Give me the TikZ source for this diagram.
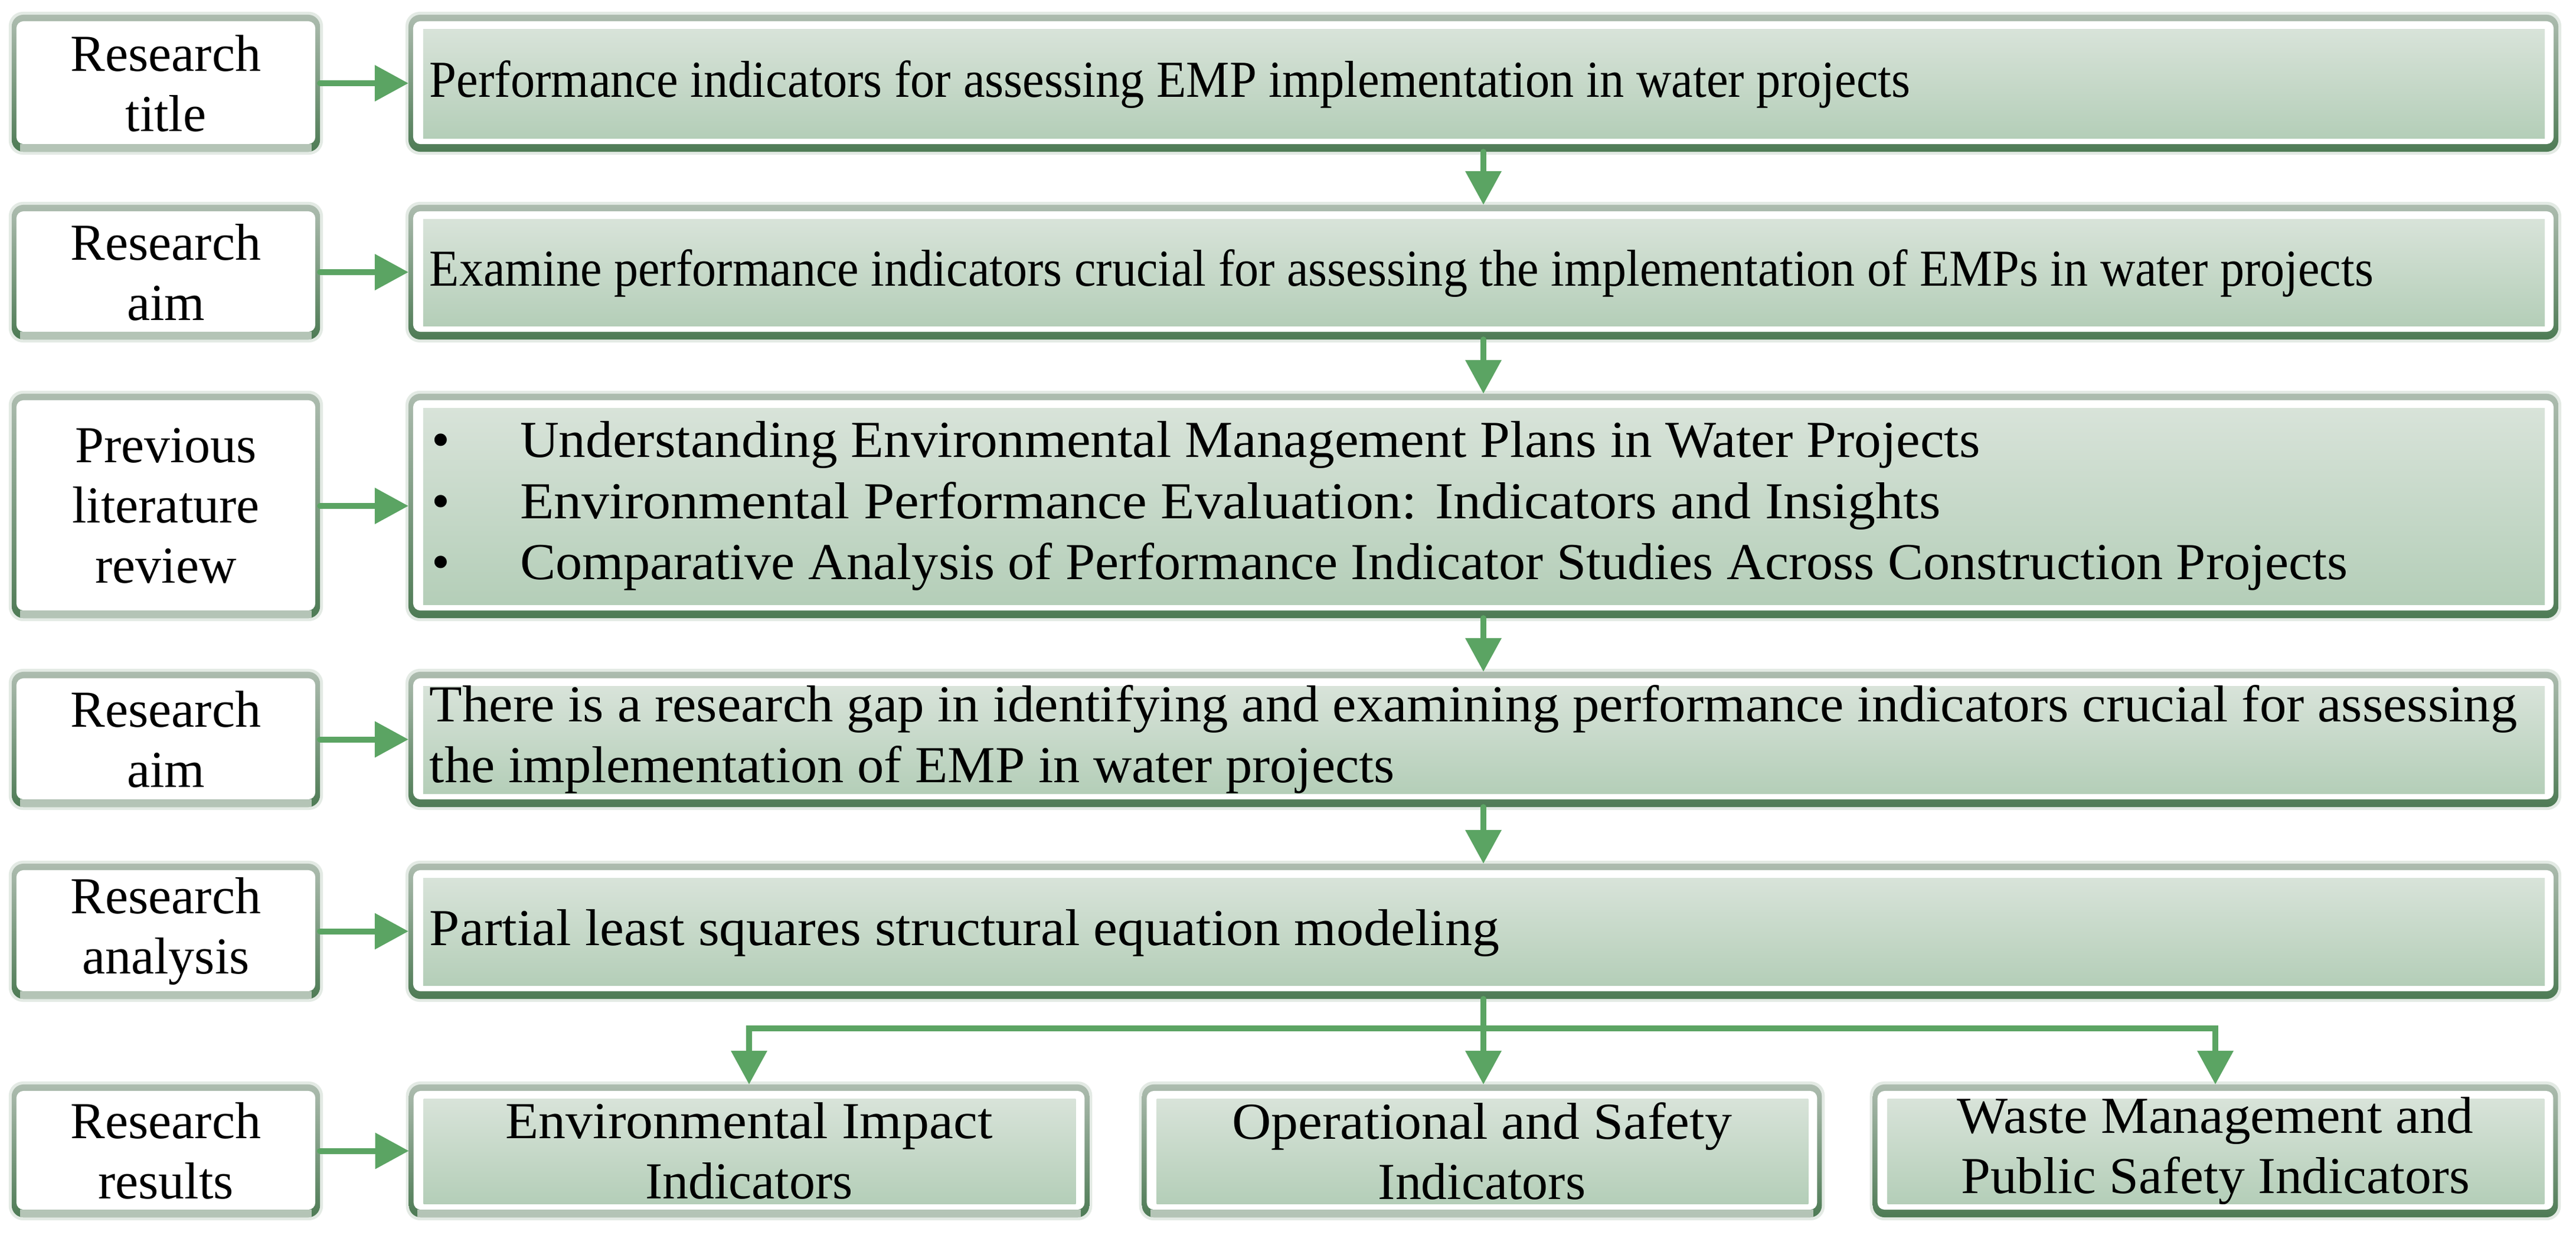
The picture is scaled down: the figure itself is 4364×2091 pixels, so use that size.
\documentclass[tikz,border=0pt]{standalone}
\usepackage{graphicx}
\usepackage{fontspec}
\setmainfont{Liberation Serif}
\usetikzlibrary{calc,backgrounds,arrows.meta}
\definecolor{arrgreen}{HTML}{5BA463}
\definecolor{frtop}{HTML}{ADBCAF}
\definecolor{frbot}{HTML}{4E7B55}
\definecolor{frlight}{HTML}{B4C4B6}
\definecolor{halo}{HTML}{E3EAE4}
\definecolor{intop}{HTML}{D8E3D9}
\definecolor{inbot}{HTML}{B4CEB8}
\newcommand\haloframe[1]{\fill[halo, rounded corners=0.24cm] ($(#1.north west)+(-5,-5)$) rectangle ($(#1.south east)+(5,5)$);}
\newcommand\innershade[1]{%
  \shade[top color=intop, bottom color=inbot] ($(#1.north west)+(25,25)$) rectangle ($(#1.south east)+(-23,-23)$);}
\newcommand\mainframe[1]{%
  \haloframe{#1}%
  \shade[top color=frtop, bottom color=frbot, rounded corners=0.2cm] (#1.north west) rectangle (#1.south east);%
  \fill[white, rounded corners=0.12cm] ($(#1.north west)+(8,11)$) rectangle ($(#1.south east)+(-8,-13)$);%
  \innershade{#1}}
\newcommand\sideframe[1]{%
  \haloframe{#1}%
  \shade[top color=frtop, bottom color=frbot, rounded corners=0.2cm] (#1.north west) rectangle (#1.south east);%
  \fill[white, rounded corners=0.12cm] ($(#1.north west)+(8,11)$) rectangle ($(#1.south east)+(-8,-13)$);%
  \fill[frlight] ($(#1.south west)+(14,-13)$) rectangle ($(#1.south east)+(-14,0)$);}
\newcommand\hs[2]{\scalebox{#1}[1]{#2}}
\newcommand\bitem[2]{\hspace*{0.04cm}\makebox[1.49cm][l]{\textbullet}\hs{#1}{#2}}
\tikzset{
  boxshape/.style={inner sep=0pt, outer sep=0pt, align=center},
  txt/.style={inner sep=0pt, outer sep=0pt, align=left},
  arr/.style={draw=arrgreen, line width=0.1cm, line cap=round, line join=miter,
    -{Triangle[length=0.57cm,width=0.59cm]}},
  arrline/.style={draw=arrgreen, line width=0.1cm, line cap=round}
}
\begin{document}
\begin{tikzpicture}[x=0.01cm, y=-0.01cm, font=\fontsize{25}{29}\selectfont]
\useasboundingbox (0,0) rectangle (4364,2091);

% left label boxes
\node[boxshape, minimum width=5.22cm, minimum height=2.32cm] (l1) at (281,141) {Research\\title};
\node[boxshape, minimum width=5.22cm, minimum height=2.28cm] (l2) at (281,461) {Research\\aim};
\node[boxshape, minimum width=5.22cm, minimum height=3.80cm] (l3) at (281,857) {Previous\\literature\\review};
\node[boxshape, minimum width=5.22cm, minimum height=2.29cm] (l4) at (281,1252.5) {Research\\aim};
\node[boxshape, minimum width=5.22cm, minimum height=2.29cm] (l5) at (281,1577.5) {Research\\analysis};
\node[boxshape, minimum width=5.22cm, minimum height=2.25cm] (l6) at (281,1949.5) {Research\\results};

% main boxes
\node[boxshape, minimum width=36.40cm, minimum height=2.32cm] (m1) at (2513,141) {};
\node[boxshape, minimum width=36.40cm, minimum height=2.28cm] (m2) at (2513,461) {};
\node[boxshape, minimum width=36.40cm, minimum height=3.80cm] (m3) at (2513,857) {};
\node[boxshape, minimum width=36.40cm, minimum height=2.29cm] (m4) at (2513,1252.5) {};
\node[boxshape, minimum width=36.40cm, minimum height=2.29cm] (m5) at (2513,1577.5) {};

% result boxes
\node[boxshape, minimum width=11.52cm, minimum height=2.25cm] (b1) at (1269,1949.5) {\hs{1.046}{Environmental Impact}\\Indicators};
\node[boxshape, minimum width=11.51cm, minimum height=2.25cm] (b2) at (2510.5,1949.5) {\hs{1.045}{Operational and Safety}\\Indicators};
\node[boxshape, minimum width=11.60cm, minimum height=2.25cm] (b3) at (3753,1949.5) {\hs{1.038}{Waste Management and}\\\hs{1.02}{Public Safety Indicators}};

% texts of main boxes
\node[txt, anchor=base west] (t1) at ($(m1.west)+(36,24)$) {\hs{0.9375}{Performance indicators for assessing EMP implementation in water projects}};
\node[txt, anchor=base west] (t2) at ($(m2.west)+(36,23)$) {\hs{0.934}{Examine performance indicators crucial for assessing the implementation of EMPs in water projects}};
\node[txt, anchor=west, font=\fontsize{25}{29.3}\selectfont] (t3) at ($(m3.west)+(36,0)$) {\bitem{1.039}{Understanding Environmental Management Plans in Water Projects}\\\bitem{1.069}{Environmental Performance Evaluation: Indicators and Insights}\\\bitem{1.026}{Comparative Analysis of Performance Indicator Studies Across Construction Projects}};
\node[txt, anchor=west, font=\fontsize{25}{29.3}\selectfont] (t4) at ($(m4.west)+(36,0)$) {\hs{1.034}{There is a research gap in identifying and examining performance indicators crucial for assessing}\\\hs{1.03}{the implementation of EMP in water projects}};
\node[txt, anchor=base west] (t5) at ($(m5.west)+(36,24)$) {\hs{1.047}{Partial least squares structural equation modeling}};

% frames
\begin{scope}[on background layer]
  \fill[white] (0,0) rectangle (4364,2091);
  \foreach \n in {l1,l2,l3,l4,l5,l6}{\sideframe{\n}}
  \foreach \n in {m1,m2,m3,m4,m5,b3}{\mainframe{\n}}
  \foreach \n in {b1,b2}{\sideframe{\n}\innershade{\n}}
\end{scope}

% connectors
\foreach \i in {1,...,5}{\draw[arr] (l\i.east) -- (m\i.west);}
\draw[arr] (l6.east) -- (b1.west);
\draw[arr] (m1.south) -- (m2.north);
\draw[arr] (m2.south) -- (m3.north);
\draw[arr] (m3.south) -- (m4.north);
\draw[arr] (m4.south) -- (m5.north);
\coordinate (j) at ($(m5.south)+(0,50)$);
\draw[arrline] (m5.south) -- (j);
\draw[arr] (j) -- (j |- b2.north);
\draw[arr] (j) -| (b1.north);
\draw[arr] (j) -| (b3.north);
\end{tikzpicture}
\end{document}
